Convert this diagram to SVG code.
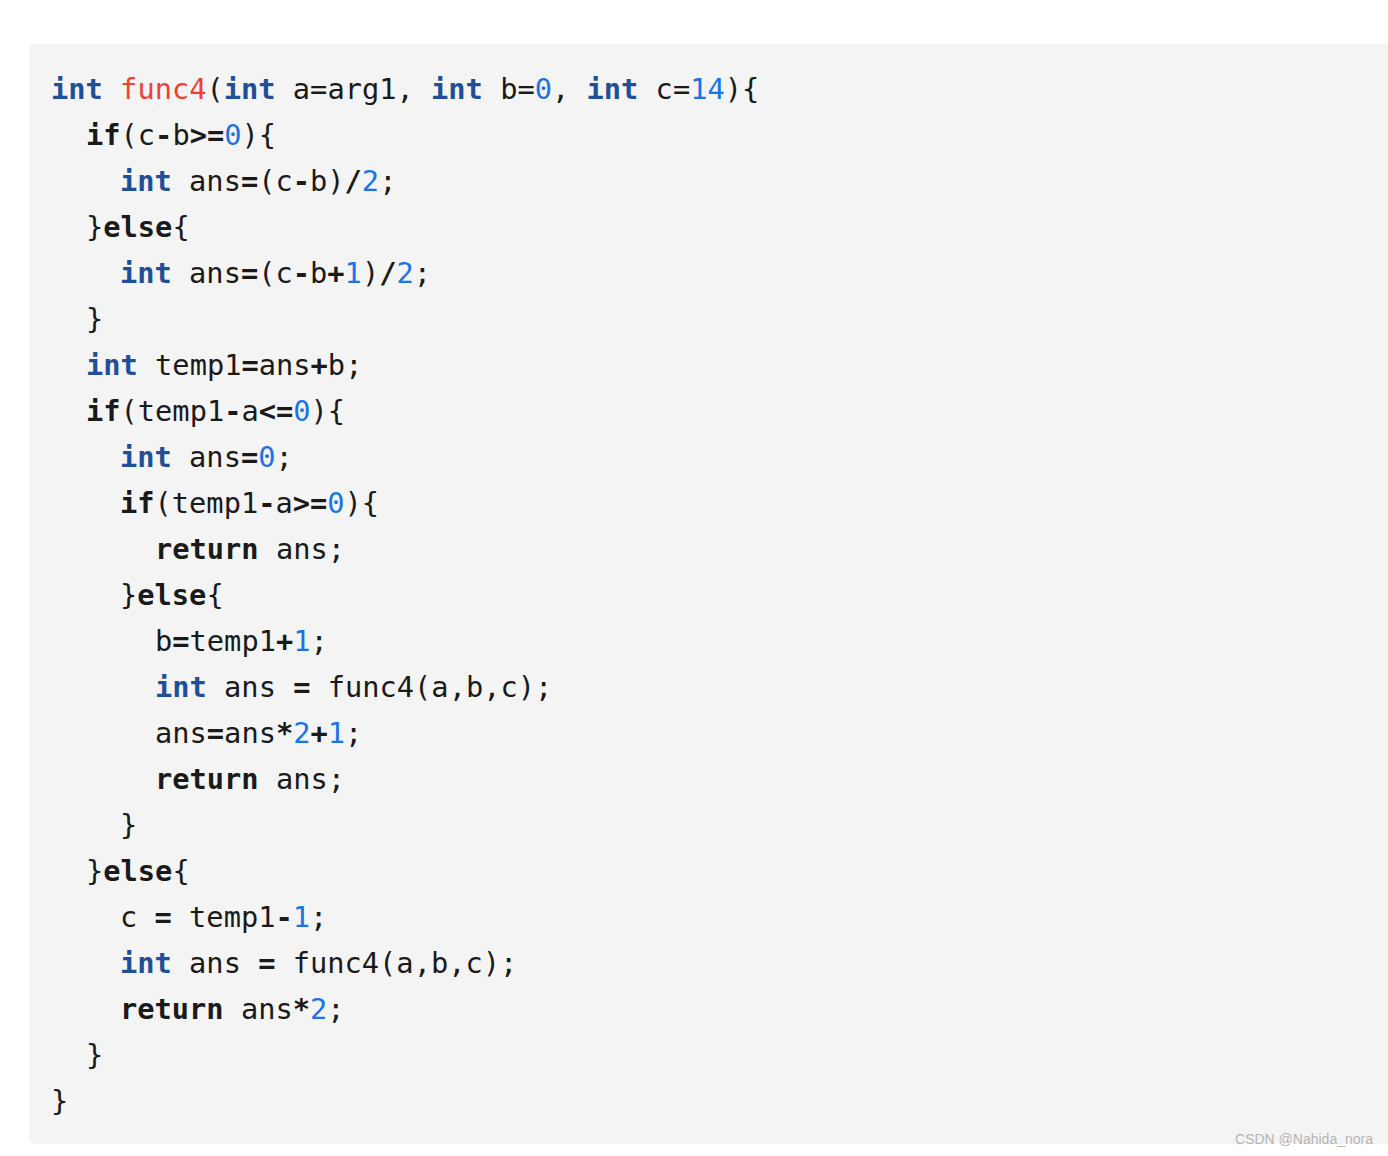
<svg xmlns="http://www.w3.org/2000/svg" width="1388" height="1156" viewBox="0 0 1388 1156">
<style>
text{font-family:"DejaVu Sans Mono","Liberation Mono",monospace;font-size:28.7px;fill:#1a1a1a;white-space:pre}
.k{fill:#1f4f98;font-weight:bold}
.n{fill:#1a73e8}
.f{fill:#ef4136}
.b{font-weight:bold}
.wm{font-family:"Liberation Sans",Arial,sans-serif;font-size:14px;fill:#b4b4b4}
</style>
<rect width="1388" height="1156" fill="#ffffff"/>
<rect x="29" y="44" width="1380" height="1100" rx="6" fill="#f4f4f4"/>
<g id="code" xml:space="preserve">
<text x="51" y="99"><tspan class="k">int</tspan> <tspan class="f">func4</tspan>(<tspan class="k">int</tspan> a=arg1, <tspan class="k">int</tspan> b=<tspan class="n">0</tspan>, <tspan class="k">int</tspan> c=<tspan class="n">14</tspan>){</text>
<text x="86" y="145"><tspan class="b">if</tspan>(c<tspan class="b">-</tspan>b<tspan class="b">&gt;=</tspan><tspan class="n">0</tspan>){</text>
<text x="120" y="191"><tspan class="k">int</tspan> ans<tspan class="b">=</tspan>(c<tspan class="b">-</tspan>b)<tspan class="b">/</tspan><tspan class="n">2</tspan>;</text>
<text x="86" y="237">}<tspan class="b">else</tspan>{</text>
<text x="120" y="283"><tspan class="k">int</tspan> ans<tspan class="b">=</tspan>(c<tspan class="b">-</tspan>b<tspan class="b">+</tspan><tspan class="n">1</tspan>)<tspan class="b">/</tspan><tspan class="n">2</tspan>;</text>
<text x="86" y="329">}</text>
<text x="86" y="375"><tspan class="k">int</tspan> temp1<tspan class="b">=</tspan>ans<tspan class="b">+</tspan>b;</text>
<text x="86" y="421"><tspan class="b">if</tspan>(temp1<tspan class="b">-</tspan>a<tspan class="b">&lt;=</tspan><tspan class="n">0</tspan>){</text>
<text x="120" y="467"><tspan class="k">int</tspan> ans<tspan class="b">=</tspan><tspan class="n">0</tspan>;</text>
<text x="120" y="513"><tspan class="b">if</tspan>(temp1<tspan class="b">-</tspan>a<tspan class="b">&gt;=</tspan><tspan class="n">0</tspan>){</text>
<text x="155" y="559"><tspan class="b">return</tspan> ans;</text>
<text x="120" y="605">}<tspan class="b">else</tspan>{</text>
<text x="155" y="651">b<tspan class="b">=</tspan>temp1<tspan class="b">+</tspan><tspan class="n">1</tspan>;</text>
<text x="155" y="697"><tspan class="k">int</tspan> ans <tspan class="b">=</tspan> func4(a,b,c);</text>
<text x="155" y="743">ans<tspan class="b">=</tspan>ans<tspan class="b">*</tspan><tspan class="n">2</tspan><tspan class="b">+</tspan><tspan class="n">1</tspan>;</text>
<text x="155" y="789"><tspan class="b">return</tspan> ans;</text>
<text x="120" y="835">}</text>
<text x="86" y="881">}<tspan class="b">else</tspan>{</text>
<text x="120" y="927">c <tspan class="b">=</tspan> temp1<tspan class="b">-</tspan><tspan class="n">1</tspan>;</text>
<text x="120" y="973"><tspan class="k">int</tspan> ans <tspan class="b">=</tspan> func4(a,b,c);</text>
<text x="120" y="1019"><tspan class="b">return</tspan> ans<tspan class="b">*</tspan><tspan class="n">2</tspan>;</text>
<text x="86" y="1065">}</text>
<text x="51" y="1111">}</text>
</g>
<text class="wm" x="1373" y="1144" text-anchor="end">CSDN @Nahida_nora</text>
</svg>
